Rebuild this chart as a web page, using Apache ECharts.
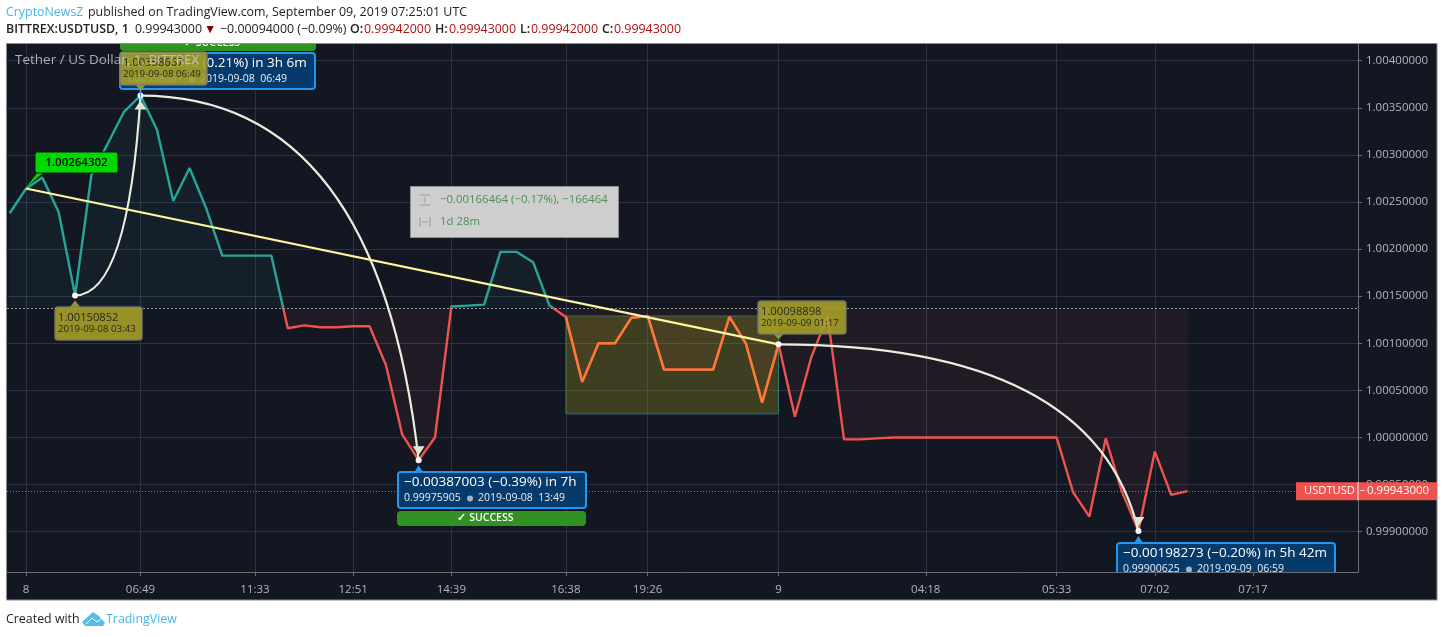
<!DOCTYPE html>
<html><head><meta charset="utf-8">
<style>html,body{margin:0;padding:0;background:#fff}#c{width:1444px;height:637px}</style>
<script src="https://cdn.jsdelivr.net/npm/echarts@6/dist/echarts.min.js"></script>
</head><body><div id="c"></div>
<script>
// ---- data ----
const bars = [-1,0,1,2,3,4,5,6,7,8,9,10,11,12,13,14,15,16,17,18,19,20,21,22,23,24,25,26,27,28,29,30,31,32,33,34,35,36,37,38,39,40,41,42,43,44,45,46,47,48,49,50,51,52,53,54,55,56,57,58,59,60,61,62,63,64,65,66,67,68,69,70,71];
const prices = [1.00238,1.00264,1.00276,1.00239,1.00151,1.00279,1.00312,1.00346,1.00363,1.00327,1.00251,1.00286,1.00244,1.00193,1.00193,1.00193,1.00193,1.00116,1.00119,1.00117,1.00117,1.00118,1.00118,1.00077,1.00003,0.99976,1.00000,1.00139,1.00140,1.00141,1.00197,1.00197,1.00186,1.00140,1.00128,1.00059,1.00100,1.00100,1.00127,1.00129,1.00072,1.00072,1.00072,1.00072,1.00128,1.00100,1.00037,1.00099,1.00022,1.00085,1.00129,0.99998,0.99998,0.99999,1.00000,1.00000,1.00000,1.00000,1.00000,1.00000,1.00000,1.00000,1.00000,1.00000,1.00000,0.99942,0.99916,0.99999,0.99942,0.99901,0.99985,0.99939,0.99943];
const xTickBars = [0,7,14,20,26,33,38,46,55,63,69,75];
const xTickLabels = ['8','06:49','11:33','12:51','14:39','16:38','19:26','9','04:18','05:33','07:02','07:17'];
const yTicks = [0.999,0.9995,1.0,1.0005,1.001,1.0015,1.002,1.0025,1.003,1.0035,1.004];
const baseline = 1.00137;
const lastPrice = 0.99943;
const trendFrom = [0,1.00264302];
const trendTo = [46,1.00098898];
const rectFrom = [33,1.00129];
const rectTo = [46,1.00025];
const curveA = [[3,1.00150852],[6.24,1.00150852],[7,1.00363]];
const curveB = [[7,1.00363],[21.5,1.00363],[24,0.99975905]];
const curveC = [[46,1.00098898],[65.3,1.00098898],[68,0.99900625]];
const xExtent = [-1.161,81.42];
const yExtent = [0.998572,1.004177];

const FONT = '"Open Sans","Noto Sans",sans-serif';
const TEAL='#26a69a', RED='#ef5350', PANEL='#131722', GRIDC='#2e3342', AXC='#6b6e76', TICKC='#b2b5be';

function txt(x,y,text,size,fill,weight){
  return {type:'text',silent:true,style:{x:x,y:y,text:text,fill:fill,font:(weight||'normal')+' '+size+'px '+FONT,textVerticalAlign:'middle',textAlign:'left'}};
}
function calloutBlue(p,x0,x1,yTop,yBot,l1,l2a,l2b){
  const tipY=p[1]+5, boxTop=yTop;
  return [
    {type:'polygon',shape:{points:[[p[0]-5,boxTop+1],[p[0],tipY],[p[0]+5,boxTop+1]]},style:{fill:'#2196f3'}},
    {type:'rect',shape:{x:x0,y:yTop,width:x1-x0,height:yBot-yTop,r:3},style:{fill:'#063a6b',stroke:'#2196f3',lineWidth:2}},
    txt(x0+6,yTop+10.5,l1,13.5,'#ffffff','500'),
    txt(x0+6,yTop+26.5,l2a,10.5,'#e8eef5'),
    {type:'circle',shape:{cx:x0+72,cy:yTop+26.5,r:3},style:{fill:'#a6b4c4'}},
    txt(x0+80,yTop+26.5,l2b,10.5,'#e8eef5')
  ];
}
function success(x0,x1,yTop,yBot){
  return [
    {type:'rect',shape:{x:x0,y:yTop,width:x1-x0,height:yBot-yTop,r:4},style:{fill:'#319122'}},
    {type:'text',silent:true,style:{x:(x0+x1)/2-6,y:(yTop+yBot)/2,text:'\u2713 SUCCESS',fill:'#fff',font:'600 10.5px '+FONT,textAlign:'center',textVerticalAlign:'middle'}}
  ];
}
function calloutYellow(p,x0,x1,yTop,yBot,below,l1,l2){
  const a='rgba(165,160,42,0.9)';
  const tri = below
    ? [[p[0]-6,yTop+1],[p[0],p[1]+5],[p[0]+6,yTop+1]]
    : [[p[0]-6,yBot-1],[p[0],p[1]-5],[p[0]+6,yBot-1]];
  return [
    {type:'polygon',shape:{points:tri},style:{fill:a}},
    {type:'rect',shape:{x:x0,y:yTop,width:x1-x0,height:yBot-yTop,r:3},style:{fill:a,stroke:'rgba(120,120,110,0.9)',lineWidth:1.5}},
    txt(x0+3,yTop+10.5,l1,11.2,'#2a2a16'),
    txt(x0+3,yTop+22.5,l2,9.7,'#2a2a16')
  ];
}
function renderBack(params,api){
  const a=api.coord(rectFrom), b=api.coord(rectTo);
  return {type:'rect',shape:{x:a[0],y:a[1],width:b[0]-a[0],height:b[1]-a[1]},style:{fill:'rgba(155,155,30,0.31)',stroke:'rgba(38,166,154,0.55)',lineWidth:1}};
}
function curve(api,c){
  const s=api.coord(c[0]), m=api.coord(c[1]), e=api.coord(c[2]);
  return {type:'bezierCurve',shape:{x1:s[0],y1:s[1],cpx1:m[0],cpy1:m[1],x2:e[0],y2:e[1]},style:{fill:null,stroke:'#e6eede',lineWidth:2.2}};
}
function arrow(p,dir){
  const tipY=p[1]+dir*5, baseY=p[1]+dir*14;
  return {type:'polygon',shape:{points:[[p[0],tipY],[p[0]-6,baseY],[p[0]+6,baseY]]},style:{fill:'#dce8d4'}};
}
function dot(p){return {type:'circle',shape:{cx:p[0],cy:p[1],r:3},style:{fill:'#ffffff'}};}
function renderFront(params,api){
  const pA=api.coord(curveA[0]), pB=api.coord(curveB[0]), pC=api.coord(curveB[2]), pD=api.coord(curveC[0]), pE=api.coord(curveC[2]);
  const t0=api.coord(trendFrom), t1=api.coord(trendTo);
  let ch=[];
  ch.push(curve(api,curveA),curve(api,curveB),curve(api,curveC));
  ch.push(arrow(pB,1),arrow(pC,-1),arrow(pE,-1));
  ch.push({type:'line',shape:{x1:t0[0],y1:t0[1],x2:t1[0],y2:t1[1]},style:{stroke:'#fff59d',lineWidth:2.2}});
  ch.push(dot(pA),dot(pB),dot(pC),dot(pD),dot(pE));
  ch.push({type:'polygon',shape:{points:[[t0[0],t0[1]-1],[t0[0]+12,172],[t0[0]+18,172]]},style:{fill:'#00d900'}});
  ch.push({type:'rect',shape:{x:35,y:152,width:83,height:21,r:2},style:{fill:'#00d900',stroke:'#0a1a0a',lineWidth:1}});
  ch.push({type:'text',silent:true,style:{x:76.5,y:162.5,text:'1.00264302',fill:'#0a0a0a',font:'600 11.5px '+FONT,textAlign:'center',textVerticalAlign:'middle'}});
  ch=ch.concat(calloutYellow(pA,55,142,307,340,true,'1.00150852','2019-09-08 03:43'));
  ch=ch.concat(calloutYellow(pD,758,846,301,334,false,'1.00098898','2019-09-09 01:17'));
  ch=ch.concat(success(120,316,36,51));
  ch=ch.concat(calloutBlue(pB,120,315,53,89,'0.00212016 (0.21%) in 3h 6m','1.00358667','2019-09-08  06:49'));
  ch=ch.concat(calloutYellow(pB,120,207,52,85,false,'1.00358667','2019-09-08 06:49'));
  ch=ch.concat(calloutBlue(pC,398,586,472,508,'\u22120.00387003 (\u22120.39%) in 7h','0.99975905','2019-09-08  13:49'));
  ch=ch.concat(success(397,586,511,526));
  ch=ch.concat(calloutBlue(pE,1117,1335,543,579,'\u22120.00198273 (\u22120.20%) in 5h 42m','0.99900625','2019-09-09  06:59'));
  ch.push({type:'rect',shape:{x:410.5,y:186.5,width:208,height:51},style:{fill:'rgba(214,214,214,0.96)',stroke:'#8d9096',lineWidth:1}});
  const ic='#9b9b9b';
  ch.push({type:'line',shape:{x1:420,y1:195,x2:430,y2:195},style:{stroke:ic,lineWidth:1}});
  ch.push({type:'line',shape:{x1:420,y1:205,x2:430,y2:205},style:{stroke:ic,lineWidth:1}});
  ch.push({type:'line',shape:{x1:425,y1:197,x2:425,y2:203},style:{stroke:ic,lineWidth:1}});
  ch.push({type:'line',shape:{x1:420,y1:217,x2:420,y2:227},style:{stroke:ic,lineWidth:1}});
  ch.push({type:'line',shape:{x1:430,y1:217,x2:430,y2:227},style:{stroke:ic,lineWidth:1}});
  ch.push({type:'line',shape:{x1:422,y1:222,x2:428,y2:222},style:{stroke:ic,lineWidth:1}});
  ch.push(txt(440,199.5,'\u22120.00166464 (\u22120.17%), \u2212166464',11.4,'#4f8f55'));
  ch.push(txt(440,222,'1d 28m',11.4,'#4f8f55'));
  return {type:'group',children:ch};
}
function renderTag(params,api){
  const p=api.coord([xExtent[1],lastPrice]);
  return {type:'group',children:[
    {type:'rect',shape:{x:1296,y:p[1]-9,width:141,height:18},style:{fill:RED}},
    {type:'line',shape:{x1:p[0],y1:p[1]-9,x2:p[0],y2:p[1]+9},style:{stroke:'#ffffff',lineWidth:1}},
    txt(1304,p[1],'USDTUSD',11.2,'#ffffff'),
    txt(1359.5,p[1],'\u2212',10,'#ffffff'),
    txt(1367,p[1],lastPrice.toFixed(8),11.5,'#ffffff')
  ]};
}
const series=[
  {type:'custom',z:1,silent:true,clip:true,renderItem:renderBack,data:[[0,1]]},
  {type:'line',z:2,silent:true,symbol:'none',data:bars.map((b,i)=>[b,prices[i]]),lineStyle:{width:2.4},areaStyle:{origin:baseline,opacity:0.06},
   markLine:{silent:true,symbol:'none',precision:8,animation:false,label:{show:false},data:[
     {yAxis:baseline,lineStyle:{color:'#9598a1',type:[2,2],width:1}},
     {yAxis:lastPrice,lineStyle:{color:RED,type:[1,2],width:1}}]}},
  {type:'line',z:3,silent:true,symbol:'none',data:bars.map((b,i)=>[b,prices[i]]).filter(d=>d[0]>=rectFrom[0]&&d[0]<=rectTo[0]),lineStyle:{width:2.4,color:'#fb7a35'}},
  {type:'custom',z:5,silent:true,clip:true,renderItem:renderFront,data:[[0,1]]},
  {type:'custom',z:6,silent:true,clip:false,renderItem:renderTag,data:[[0,1]]}
];
function hdr(x,y,text,fill,weight){return {type:'text',z:20,silent:true,style:{x:x,y:y,text:text,fill:fill,font:(weight||'normal')+' 12.4px '+FONT,textVerticalAlign:'middle'}};}
const chart=echarts.init(document.getElementById('c'));
chart.setOption({
  animation:false,backgroundColor:'#ffffff',
  textStyle:{fontFamily:FONT},
  grid:{left:7,top:44,width:1351,height:528,show:false},
  visualMap:{show:false,type:'piecewise',seriesIndex:1,dimension:1,pieces:[{min:0.99,max:baseline,color:RED},{min:baseline,max:1.01,color:TEAL}]},
  xAxis:{type:'value',min:xExtent[0],max:xExtent[1],position:'bottom',
    axisLine:{onZero:false,lineStyle:{color:AXC,width:1}},
    axisTick:{show:true,length:4,customValues:xTickBars,lineStyle:{color:AXC}},
    axisLabel:{customValues:xTickBars,color:TICKC,fontSize:11.5,margin:12,fontFamily:FONT,formatter:v=>xTickLabels[xTickBars.indexOf(v)]||''},
    splitLine:{show:true,lineStyle:{color:GRIDC,width:1}}},
  yAxis:{type:'value',min:yExtent[0],max:yExtent[1],position:'right',
    axisLine:{show:true,onZero:false,lineStyle:{color:AXC,width:1}},
    axisTick:{show:true,length:4,customValues:yTicks,lineStyle:{color:AXC}},
    axisLabel:{customValues:yTicks,color:TICKC,fontSize:11.5,margin:8,fontFamily:FONT,formatter:v=>v.toFixed(8)},
    splitLine:{show:true,lineStyle:{color:GRIDC,width:1}}},
  series:series,
  graphic:[
    {type:'rect',z:-10,silent:true,shape:{x:6.5,y:43.5,width:1430.5,height:556.5},style:{fill:PANEL,stroke:'#8a8d93',lineWidth:1}},
    hdr(6,12,'CryptoNewsZ','#45b6ec'),
    hdr(88,12,'published on TradingView.com, September 09, 2019 07:25:01 UTC','#222222'),
    hdr(6,29,'BITTREX:USDTUSD, 1','#222222','600'),
    hdr(135,29,'0.99943000','#222222'),
    hdr(204,29,'\u25BC','#8f0000'),
    hdr(220,29,'\u22120.00094000 (\u22120.09%)','#222222'),
    hdr(350,29,'O:','#222222','600'),hdr(364,29,'0.99942000','#b01010'),
    hdr(435,29,'H:','#222222','600'),hdr(449,29,'0.99943000','#b01010'),
    hdr(520,29,'L:','#222222','600'),hdr(531,29,'0.99942000','#b01010'),
    hdr(602,29,'C:','#222222','600'),hdr(614,29,'0.99943000','#b01010'),
    hdr(6,619.5,'Created with','#222222'),
    hdr(106,619.5,'TradingView','#45b6ec'),
    {type:'polygon',z:20,silent:true,shape:{points:[[82,622],[93,612],[99,616],[105,623],[103,626],[85,626]]},style:{fill:'#5bbce8'}},
    {type:'polyline',z:21,silent:true,shape:{points:[[86,624],[92,618],[97,622],[102,618]]},style:{fill:null,stroke:'#ffffff',lineWidth:1}},
    {type:'text',z:30,silent:true,style:{x:15,y:60,text:'Tether / US Dollar, 1, BITTREX',fill:'rgba(196,199,205,0.85)',font:'13.5px '+FONT,textVerticalAlign:'middle'}}
  ]
});
</script></body></html>
